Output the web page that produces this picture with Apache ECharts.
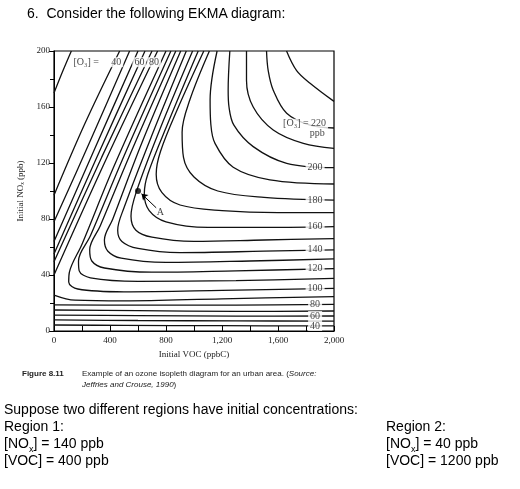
<!DOCTYPE html>
<html><head><meta charset="utf-8">
<script src="https://cdn.jsdelivr.net/npm/echarts@6/dist/echarts.min.js"></script>
<style>
body{margin:0;background:#fff;}
#wrap{position:relative;width:520px;height:489px;overflow:hidden;}
#chart{position:absolute;left:0;top:0;width:520px;height:489px;}
.t{position:absolute;font-family:Arial,"Liberation Sans",sans-serif;font-size:14px;color:#000;white-space:nowrap;line-height:17px;}
.cap{position:absolute;font-family:"Liberation Sans",Arial,sans-serif;font-size:8px;color:#222;line-height:11px;}
sub{font-size:9px;}
</style></head><body>
<div id="wrap">
<div id="chart"></div>
<div class="t" style="left:27px;top:5px;">6.&nbsp; Consider the following EKMA diagram:</div>
<div class="cap" style="left:22px;top:368px;font-weight:bold;">Figure 8.11</div>
<div class="cap" style="left:82px;top:368px;">Example of an ozone isopleth diagram for an urban area. (<i>Source:</i><br><i>Jeffries and Crouse, 1990</i>)</div>
<div class="t" style="left:4px;top:401px;">Suppose two different regions have initial concentrations:</div>
<div class="t" style="left:4px;top:418px;">Region 1:</div>
<div class="t" style="left:4px;top:435px;">[NO<sub>x</sub>] = 140 ppb</div>
<div class="t" style="left:4px;top:452px;">[VOC] = 400 ppb</div>
<div class="t" style="left:386px;top:418px;">Region 2:</div>
<div class="t" style="left:386px;top:435px;">[NO<sub>x</sub>] = 40 ppb</div>
<div class="t" style="left:386px;top:452px;">[VOC] = 1200 ppb</div>
</div>
<script>
// Isopleth lines [VOC ppbC, NOx ppb]
const L0 = [[0,170],[60,185],[124,200]];
const d1 = [[0,97],[220,148],[469,200]];
const d2 = [[0,78],[260,136],[540,200]];
const d3 = [[0,64],[290,130],[600,200]];
const d4 = [[0,55],[310,125],[650,200]];
const d5 = [[0,49.5],[340,124],[700,200]];
const d6 = [[0,40],[360,120],[740,200]];
const h40 = [[0,4.3],[500,4],[1200,3.8],[2000,3.6]];
const h50 = [[0,7.9],[600,7.5],[1300,7.2],[2000,7.1]];
const h60 = [[0,11.4],[600,11],[1300,10.6],[2000,10.7]];
const h70 = [[0,15],[600,14.5],[1300,14],[2000,14.3]];
const h80 = [[0,18.6],[600,18.5],[1300,18.5],[2000,19]];
const h90 = [[0,25.7],[150,22],[500,21.5],[1200,23],[2000,24.5]];
const k100 = [[800,200],[430,118],[200,62],[110,42],[105,35],[170,30],[500,28],[1200,29],[2000,30.5]];
const k110 = [[835,200],[500,125],[260,68],[175,50],[180,43],[260,38],[600,35.5],[1300,36],[2000,37.6]];
const k120 = [[870,200],[560,130],[330,75],[255,58],[270,50],[360,45],[700,42],[1300,43],[2000,44.5]];
const k130 = [[905,200],[630,135],[420,80],[360,65],[385,57],[480,52],[800,49],[1400,50],[2000,51.5]];
const k140 = [[945,200],[700,140],[500,88],[455,72],[485,64],[600,59],[900,56],[1500,57],[2000,58]];
const k150 = [[990,200],[760,145],[590,100],[550,82],[585,72],[700,67],[1000,64],[1500,65],[2000,66]];
const k160 = [[1030,200],[820,150],[670,112],[645,98],[680,86],[800,78],[1100,74],[1600,74],[2000,74.5]];
const k170 = [[1070,200],[880,158],[760,128],[730,112],[770,99],[900,90],[1200,86],[1600,84.5],[2000,84.5]];
const k180 = [[1110,200],[970,165],[915,142],[925,124],[1000,110],[1170,100],[1500,95.5],[2000,93.5]];
const k190 = [[1165,200],[1115,165],[1120,148],[1150,134],[1280,117],[1542,108],[2000,105]];
const k200 = [[1256,200],[1244,172],[1250,160],[1285,147],[1423,131.7],[1662,119.8],[2000,116.7]];
const k210 = [[1375,200],[1375,179],[1423,160],[1566,143.6],[1781,134],[2000,130.5]];
const k220 = [[1518,200],[1530,186],[1566,172],[1662,155.5],[1828,147],[2000,145]];
const k230 = [[1661,200],[1733,186],[1829,177],[2000,164]];
const curves = [L0,d1,d2,d3,d4,d5,d6,h40,h50,h60,h70,h80,h90,k100,k110,k120,k130,k140,k150,k160,k170,k180,k190,k200,k210,k220,k230];
// right-side labels
const rightLabels = [["40",1865,3.6],["60",1865,10.7],["80",1865,19],["100",1865,30.5],["120",1865,44.5],["140",1865,58],["160",1865,74.5],["180",1865,93.5],["200",1865,116.7]];
const topLabels = [["[O₃] =",230,192],["40",445,192],["60",610,192],["80",715,192]];
const pointA = [600,100];

const chart = echarts.init(document.getElementById('chart'));
const serif = '"Liberation Serif","DejaVu Serif",serif';
const series = curves.map(c => ({type:'line',data:c,smooth:0.35,symbol:'none',silent:true,
  lineStyle:{color:'#111',width:1.3},z:2}));
const lbl = {show:true,position:'inside',formatter:p=>p.data[2],fontFamily:serif,fontSize:10,color:'#111',backgroundColor:'#fff',padding:[0,2]};
series.push({type:'scatter',data:rightLabels.map(r=>[r[1],r[2],r[0]]),symbolSize:0,z:5,label:lbl});
series.push({type:'scatter',data:topLabels.map(r=>[r[1],r[2],r[0]]),symbolSize:0,z:5,label:lbl});
series.push({type:'scatter',data:[[1790,148,'[O₃] = 220'],[1880,141,'ppb']],symbolSize:0,z:5,label:lbl});
series.push({type:'scatter',data:[pointA],symbolSize:6,itemStyle:{color:'#000'},z:6,
  markLine:{silent:true,symbol:['none','arrow'],symbolSize:6,lineStyle:{color:'#000',width:1,type:'solid'},label:{show:false},
    data:[[{coord:[730,88]},{coord:[625,98]}]]}});
series.push({type:'scatter',data:[[760,85,'A']],symbolSize:0,z:6,
  label:{show:true,position:'inside',formatter:p=>p.data[2],fontFamily:serif,fontSize:10,color:'#111'}});

chart.setOption({
  animation:false,
  grid:{left:54,top:51,width:280,height:280,show:true,borderColor:'#000',borderWidth:1.2,containLabel:false},
  xAxis:{type:'value',min:0,max:2000,interval:400,
    name:'Initial VOC (ppbC)',nameLocation:'middle',nameGap:19,
    nameTextStyle:{fontFamily:serif,fontSize:9,color:'#222'},
    axisLine:{lineStyle:{color:'#000'}},axisTick:{inside:true,length:5,lineStyle:{color:'#000'}},
    minorTick:{show:true,splitNumber:2,length:5},
    axisLabel:{fontFamily:serif,fontSize:9,color:'#222',margin:5,formatter:v=>v.toLocaleString('en-US')},
    splitLine:{show:false}},
  yAxis:{type:'value',min:0,max:200,interval:40,
    name:'Initial NOₓ (ppb)',nameLocation:'middle',nameGap:24,nameRotate:90,
    nameTextStyle:{fontFamily:serif,fontSize:9,color:'#222'},
    axisLine:{lineStyle:{color:'#000'}},axisTick:{inside:false,length:5,lineStyle:{color:'#000'}},
    minorTick:{show:true,splitNumber:2,length:4},
    axisLabel:{fontFamily:serif,fontSize:9,color:'#222',margin:4},
    splitLine:{show:false}},
  series
});
</script>
</body></html>
